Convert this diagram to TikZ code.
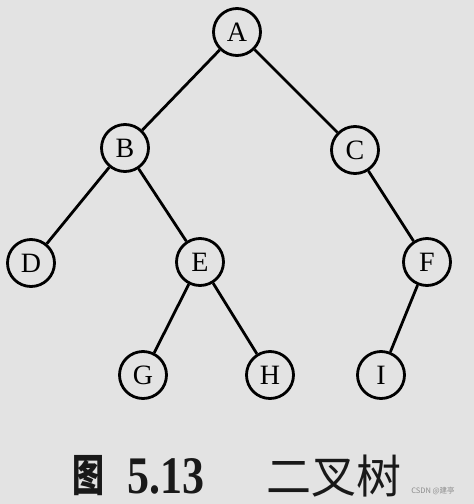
\documentclass[tikz,border=0pt]{standalone}
\usepackage{fontspec}
\setmainfont{Liberation Serif}
\newfontfamily\cjk{Noto Sans CJK SC}
\newfontfamily\wmfont{Noto Sans CJK SC}
\begin{document}
\begin{tikzpicture}[x=1pt,y=-1pt,
  treenode/.style={circle,draw=black,line width=2.8pt,minimum size=47pt,inner sep=0pt,
    font=\fontsize{28}{28}\selectfont,text=black},
  treeedge/.style={line width=2.8pt,black},
  caption/.style={inner sep=0pt,text=black!90}]
\fill[black!11] (0,0) rectangle (474,504);
\useasboundingbox (0,0) rectangle (474,504);
\node[treenode] (A) at (237,32) {A};
\node[treenode] (B) at (125,148) {B};
\node[treenode] (C) at (355,150) {C};
\node[treenode] (D) at (31,263) {D};
\node[treenode] (E) at (200,262) {E};
\node[treenode] (F) at (427,262) {F};
\node[treenode] (G) at (143,375) {G};
\node[treenode] (H) at (270,375) {H};
\node[treenode] (I) at (381,375) {I};
\draw[treeedge] (A) -- (B);
\draw[treeedge] (A) -- (C);
\draw[treeedge] (B) -- (D);
\draw[treeedge] (B) -- (E);
\draw[treeedge] (C) -- (F);
\draw[treeedge] (E) -- (G);
\draw[treeedge] (E) -- (H);
\draw[treeedge] (F) -- (I);
\node[caption] (fig) at (88,476) {\scalebox{0.8}[1.1]{\cjk\bfseries\fontsize{40}{40}\selectfont 图}};
\node[caption] (num) at (166,476) {\scalebox{1}[1.2]{\bfseries\fontsize{44}{44}\selectfont 5.13}};
\node[caption] (title) at (334,476) {\scalebox{1}[1.02]{\cjk\fontsize{45}{45}\selectfont 二叉树}};
\node[inner sep=0pt,text=black!45] (wm) at (433,491) {\wmfont\fontsize{7.5}{7.5}\selectfont CSDN @建亭};
\end{tikzpicture}
\end{document}
